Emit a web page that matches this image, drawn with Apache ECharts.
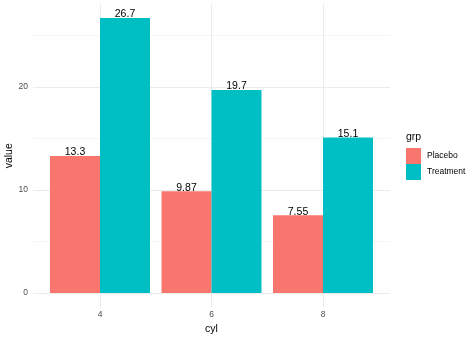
<!DOCTYPE html>
<html>
<head>
<meta charset="utf-8">
<script src="https://cdn.jsdelivr.net/npm/echarts@6/dist/echarts.min.js"></script>
<style>
  html, body { margin: 0; padding: 0; background: #fff; }
  #chart { width: 474px; height: 338px; }
</style>
</head>
<body>
<div id="chart"></div>
<script>
// Mean values by cylinder count and group
const categories = ['4', '6', '8'];
const placebo = [13.3, 9.87, 7.55];
const treatment = [26.7, 19.7, 15.1];
const groupNames = ['Placebo', 'Treatment'];
const legendTitle = 'grp';
const xTitle = 'cyl';
const yTitle = 'value';

const FONT = '"Liberation Sans", Arial, sans-serif';
const GRID_COLOR = '#EBEBEB';
const COLORS = ['#F8766D', '#00BFC4'];

const chart = echarts.init(document.getElementById('chart'), null, { renderer: 'canvas' });

// Shared vertical placement: value 0 sits at y=293, 10 units ~ 103px
const yTop = -16, yBottom = 45;

const labelStyle = {
  show: true,
  position: 'top',
  distance: -2,
  color: '#000',
  fontSize: 10.5,
  fontFamily: FONT
};

chart.setOption({
  animation: false,
  textStyle: { fontFamily: FONT },
  title: {
    text: legendTitle,
    left: 406,
    top: 132,
    padding: 0,
    textStyle: { fontSize: 10.5, fontWeight: 'normal', color: '#000', fontFamily: FONT }
  },
  legend: {
    data: groupNames,
    orient: 'vertical',
    left: 406,
    top: 148,
    padding: 0,
    itemWidth: 15,
    itemHeight: 16,
    itemGap: 0,
    icon: 'rect',
    textStyle: { fontSize: 8.5, color: '#000', fontFamily: FONT, padding: [0, 0, 0, 1] }
  },
  grid: [
    // bars
    { left: 44.25, right: 95.25, top: yTop, bottom: yBottom, outerBoundsMode: 'none', containLabel: false },
    // horizontal grid lines and y labels across the full panel
    { left: 33, right: 84, top: yTop, bottom: yBottom, outerBoundsMode: 'none', containLabel: false },
    // vertical grid lines at category centres, full panel height
    { left: 100, right: 151, top: 4.5, bottom: 31, outerBoundsMode: 'none', containLabel: false }
  ],
  xAxis: [
    {
      gridIndex: 0,
      type: 'category',
      data: categories,
      axisLine: { show: false },
      axisTick: { show: false },
      splitLine: { show: false },
      axisLabel: { margin: 17, fontSize: 8.5, color: '#4D4D4D', fontFamily: FONT },
      name: xTitle,
      nameLocation: 'middle',
      nameGap: 30,
      nameTextStyle: { fontSize: 10.5, color: '#000', fontFamily: FONT }
    },
    {
      gridIndex: 1,
      type: 'category',
      data: categories,
      show: false
    },
    {
      gridIndex: 2,
      type: 'category',
      data: categories,
      boundaryGap: false,
      axisLine: { show: false },
      axisTick: { show: false },
      axisLabel: { show: false },
      splitLine: { show: true, lineStyle: { color: GRID_COLOR, width: 1 } }
    }
  ],
  yAxis: [
    {
      gridIndex: 0,
      type: 'value',
      min: 0,
      max: 30,
      interval: 10,
      axisLine: { show: false },
      axisTick: { show: false },
      axisLabel: { show: false },
      splitLine: { show: false }
    },
    {
      gridIndex: 1,
      type: 'value',
      min: 0,
      max: 30,
      interval: 10,
      axisLine: { show: false },
      axisTick: { show: false },
      axisLabel: { margin: 5, fontSize: 8.5, color: '#4D4D4D', fontFamily: FONT },
      splitLine: { show: true, lineStyle: { color: GRID_COLOR, width: 1 } },
      minorTick: { show: false, splitNumber: 2 },
      minorSplitLine: { show: true, lineStyle: { color: GRID_COLOR, width: 0.5 } }
    },
    {
      // carries the y title, centred on the full panel height
      gridIndex: 2,
      type: 'value',
      axisLine: { show: false },
      axisTick: { show: false },
      axisLabel: { show: false },
      splitLine: { show: false },
      name: yTitle,
      nameLocation: 'middle',
      nameGap: 85,
      nameRotate: 90,
      nameTextStyle: { fontSize: 10.5, color: '#000', fontFamily: FONT }
    }
  ],
  series: [
    {
      name: groupNames[0],
      type: 'bar',
      xAxisIndex: 0,
      yAxisIndex: 0,
      data: placebo,
      barWidth: 50,
      barGap: '0%',
      itemStyle: { color: COLORS[0] },
      label: labelStyle
    },
    {
      name: groupNames[1],
      type: 'bar',
      xAxisIndex: 0,
      yAxisIndex: 0,
      data: treatment,
      barWidth: 50,
      barGap: '0%',
      itemStyle: { color: COLORS[1] },
      label: labelStyle
    }
  ]
});
</script>
</body>
</html>
